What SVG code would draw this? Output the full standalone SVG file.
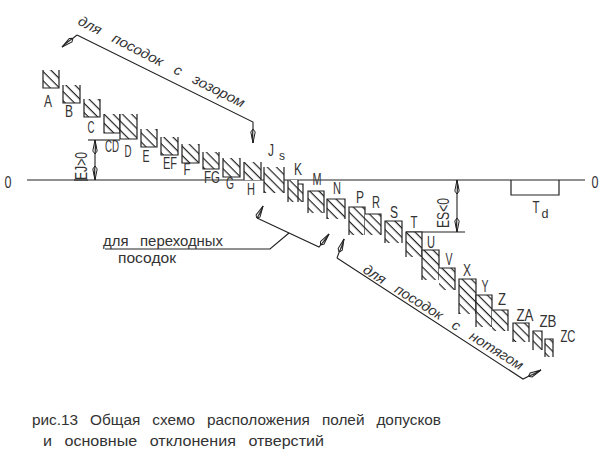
<svg xmlns="http://www.w3.org/2000/svg" width="615" height="462" viewBox="0 0 615 462">
<style>
text{font-family:"Liberation Sans",sans-serif;fill:#333;font-size:16px;text-anchor:middle}
.s{font-size:14px;text-anchor:start;font-style:italic;word-spacing:9px}
.c{font-size:14px;text-anchor:start;word-spacing:7px}
.sub{font-size:13px}
.o{fill:none;stroke:#222;stroke-width:1.2}
.h{fill:url(#h)}
.l{fill:none;stroke:#222;stroke-width:1.1}
.a{fill:none;stroke:#222;stroke-width:1.1;marker-end:url(#m)}
</style>
<defs>
<pattern id="h" patternUnits="userSpaceOnUse" width="6.5" height="6.5" patternTransform="rotate(45)"><rect width="6.5" height="6.5" fill="#fff"/><line x1="0" y1="0.6" x2="6.5" y2="0.6" stroke="#222" stroke-width="1.2"/></pattern>
<marker id="m" markerUnits="userSpaceOnUse" markerWidth="16" markerHeight="8" refX="14" refY="4" orient="auto"><path d="M14 4L3 1.8L0 4L3 6.2Z" fill="#fff" stroke="#222" stroke-width="1"/><path d="M0 4H14L7 5Z" fill="#222" stroke="#222" stroke-width=".6"/></marker>
</defs>
<rect width="615" height="462" fill="#fff"/>
<g id="connectors">
<line class="l" x1="27" y1="180" x2="585" y2="180"/>
<path class="a" d="M77 35L62 47"/>
<path class="a" d="M77 35L253 122L253 143"/>
<path class="a" d="M257 218L263 206"/>
<path class="a" d="M257 218L319 247L329 234"/>
<path class="l" d="M289 233L270 249L105 249"/>
<path class="a" d="M337 258L344 239"/>
<path class="a" d="M337 258L523 379L541 370"/>
<path class="l" d="M88 140L120 140"/>
<path class="a" d="M95 160L95 140"/>
<path class="a" d="M95 160L95 180"/>
<path class="l" d="M74 180L88 180"/>
<path class="l" d="M406 232L465 232"/>
<path class="a" d="M457 206L457 180"/>
<path class="a" d="M457 206L457 232"/>
</g>
<g id="A"><rect class="h" x="43" y="70" width="16" height="18"/><path class="o" d="M43 70V88H59V70"/><text x="48" y="107" lengthAdjust="spacingAndGlyphs" textLength="8">A</text></g>
<g id="B"><rect class="h" x="63" y="85" width="17" height="18"/><path class="o" d="M63 85V103H80V85"/><text x="69" y="117" lengthAdjust="spacingAndGlyphs" textLength="8">B</text></g>
<g id="C"><rect class="h" x="84" y="99" width="16" height="18"/><path class="o" d="M84 99V117H100V99"/><text x="91" y="133" lengthAdjust="spacingAndGlyphs" textLength="7">C</text></g>
<g id="CD"><rect class="h" x="104" y="114" width="16" height="19"/><path class="o" d="M104 114V133H120V114"/><text x="112" y="152" lengthAdjust="spacingAndGlyphs" textLength="14">CD</text></g>
<g id="D"><rect class="h" x="120" y="114" width="17" height="25"/><path class="o" d="M120 114V139H137V114"/><text x="128" y="157" lengthAdjust="spacingAndGlyphs" textLength="7">D</text></g>
<g id="E"><rect class="h" x="141" y="129" width="16" height="18"/><path class="o" d="M141 129V147H157V129"/><text x="146" y="162" lengthAdjust="spacingAndGlyphs" textLength="7">E</text></g>
<g id="EF"><rect class="h" x="161" y="137" width="17" height="18"/><path class="o" d="M161 137V155H178V137"/><text x="170" y="169" lengthAdjust="spacingAndGlyphs" textLength="14">EF</text></g>
<g id="F"><rect class="h" x="182" y="144" width="17" height="19"/><path class="o" d="M182 144V163H199V144"/><text x="187" y="175" lengthAdjust="spacingAndGlyphs" textLength="7">F</text></g>
<g id="FG"><rect class="h" x="203" y="152" width="16" height="17"/><path class="o" d="M203 152V169H219V152"/><text x="212" y="183" lengthAdjust="spacingAndGlyphs" textLength="16">FG</text></g>
<g id="G"><rect class="h" x="223" y="158" width="17" height="19"/><path class="o" d="M223 158V177H240V158"/><text x="230" y="189" lengthAdjust="spacingAndGlyphs" textLength="8">G</text></g>
<g id="H"><rect class="h" x="244" y="162" width="17" height="18"/><path class="o" d="M244 162V180M261 162V180"/><text x="251" y="195" lengthAdjust="spacingAndGlyphs" textLength="8">H</text></g>
<g id="Js"><rect class="h" x="264" y="167" width="20" height="26"/><path class="o" d="M264 167V193M284 167V193"/><text x="271" y="156" lengthAdjust="spacingAndGlyphs" textLength="6">J</text><text class="sub" x="282" y="160" lengthAdjust="spacingAndGlyphs" textLength="6">s</text></g>
<g id="K"><rect class="h" x="288" y="180" width="10" height="22"/><rect class="h" x="298" y="184" width="5" height="18"/><path class="o" d="M288 180V202M298 180V202M298 184H303V202"/><text x="298" y="175" lengthAdjust="spacingAndGlyphs" textLength="8">K</text></g>
<g id="M"><rect class="h" x="308" y="191" width="16" height="22"/><path class="o" d="M308 213V191H324V213"/><text x="317" y="185" lengthAdjust="spacingAndGlyphs" textLength="9">M</text></g>
<g id="N"><rect class="h" x="327" y="199" width="18" height="20"/><path class="o" d="M327 219V199H345V219"/><text x="337" y="194" lengthAdjust="spacingAndGlyphs" textLength="8">N</text></g>
<g id="P"><rect class="h" x="349" y="207" width="16" height="28"/><path class="o" d="M349 235V207H365V235"/><text x="360" y="203" lengthAdjust="spacingAndGlyphs" textLength="8">P</text></g>
<g id="R"><rect class="h" x="365" y="214" width="16" height="21"/><path class="o" d="M365 214H381V235"/><text x="376" y="208" lengthAdjust="spacingAndGlyphs" textLength="8">R</text></g>
<g id="S"><rect class="h" x="385" y="221" width="17" height="22"/><path class="o" d="M385 243V221H402V243"/><text x="394" y="218" lengthAdjust="spacingAndGlyphs" textLength="8">S</text></g>
<g id="T"><rect class="h" x="406" y="232" width="16" height="25"/><path class="o" d="M406 257V232H422V257"/><text x="414" y="228" lengthAdjust="spacingAndGlyphs" textLength="7">T</text></g>
<g id="U"><rect class="h" x="422" y="250" width="17" height="30"/><path class="o" d="M422 280V250H439V280"/><text x="431" y="248" lengthAdjust="spacingAndGlyphs" textLength="8">U</text></g>
<g id="V"><rect class="h" x="439" y="268" width="16" height="22"/><path class="o" d="M439 268H455V290"/><text x="449" y="265" lengthAdjust="spacingAndGlyphs" textLength="7">V</text></g>
<g id="X"><rect class="h" x="459" y="279" width="17" height="35"/><path class="o" d="M459 314V279H476V314"/><text x="467" y="276" lengthAdjust="spacingAndGlyphs" textLength="8">X</text></g>
<g id="Y"><rect class="h" x="476" y="295" width="16" height="32"/><path class="o" d="M476 327V295H492V327"/><text x="485" y="292" lengthAdjust="spacingAndGlyphs" textLength="7">Y</text></g>
<g id="Z"><rect class="h" x="492" y="310" width="16" height="21"/><path class="o" d="M492 310H508V331"/><text x="502" y="305" lengthAdjust="spacingAndGlyphs" textLength="8">Z</text></g>
<g id="ZA"><rect class="h" x="513" y="323" width="16" height="19"/><path class="o" d="M513 342V323H529V342"/><text x="525" y="321" lengthAdjust="spacingAndGlyphs" textLength="17">ZA</text></g>
<g id="ZB"><rect class="h" x="533" y="331" width="9" height="19"/><path class="o" d="M533 350V331H542V350"/><text x="548" y="327" lengthAdjust="spacingAndGlyphs" textLength="17">ZB</text></g>
<g id="ZC"><rect class="h" x="545" y="339" width="8" height="18"/><path class="o" d="M545 357V339H553V357"/><text x="568" y="342" lengthAdjust="spacingAndGlyphs" textLength="15">ZC</text></g>
<g id="Td"><path class="o" d="M511 180V195H559V180"/><text x="536" y="213" lengthAdjust="spacingAndGlyphs" textLength="7">T</text><text class="sub" x="545" y="218" lengthAdjust="spacingAndGlyphs" textLength="7">d</text></g>
<g id="labels">
<text x="8" y="188" lengthAdjust="spacingAndGlyphs" textLength="7">0</text>
<text x="595" y="188" lengthAdjust="spacingAndGlyphs" textLength="7">0</text>
<text transform="translate(87 166) rotate(-90)" lengthAdjust="spacingAndGlyphs" textLength="28">EJ&gt;0</text>
<text transform="translate(449 213) rotate(-90)" lengthAdjust="spacingAndGlyphs" textLength="30">ES&lt;0</text>
<text class="s" transform="translate(77 24) rotate(27)" lengthAdjust="spacingAndGlyphs" textLength="185">для посодок с зозором</text>
<text class="s" transform="translate(362 272) rotate(32)" lengthAdjust="spacingAndGlyphs" textLength="186">для посодок с нотягом</text>
<text class="c" x="103" y="246" lengthAdjust="spacingAndGlyphs" textLength="120">для переходных</text>
<text class="c" x="118" y="263" lengthAdjust="spacingAndGlyphs" textLength="58">посодок</text>
<text class="c" x="32" y="425" lengthAdjust="spacingAndGlyphs" textLength="409">рис.13 Общая схемо расположения полей допусков</text>
<text class="c" x="43" y="446" lengthAdjust="spacingAndGlyphs" textLength="281">и основные отклонения отверстий</text>
</g>
</svg>
